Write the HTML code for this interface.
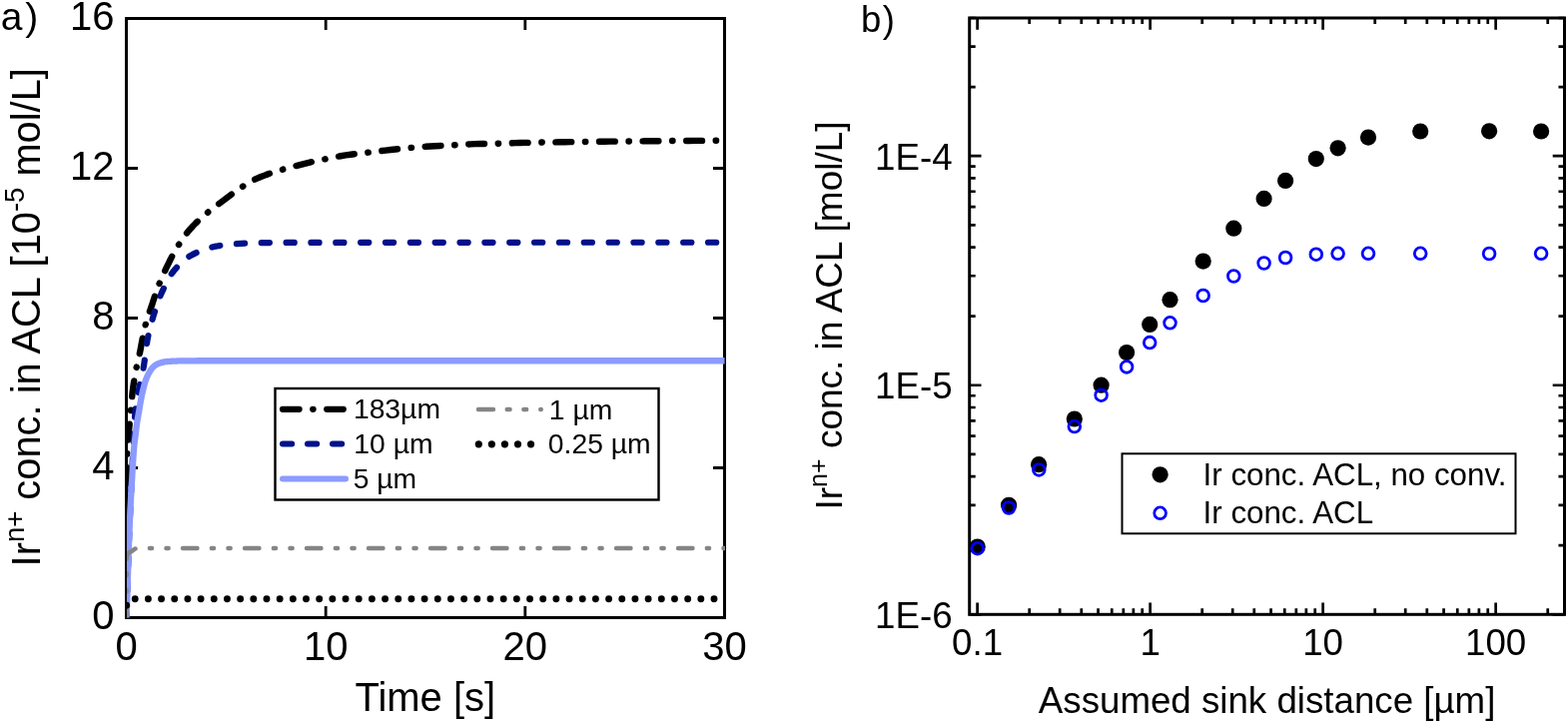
<!DOCTYPE html>
<html><head><meta charset="utf-8"><style>
html,body{margin:0;padding:0;background:#fff;width:1570px;height:724px;overflow:hidden}
svg{display:block}
text{font-family:"Liberation Sans", Arial, sans-serif;fill:#000}
</style></head><body>
<svg width="1570" height="724" viewBox="0 0 1570 724">
<rect width="1570" height="724" fill="#fff"/>
<path d="M326.17 618.5 V607 M326.17 18.5 V30 M525.83 618.5 V607 M525.83 18.5 V30 M126.5 468.5 H138 M725.5 468.5 H714 M126.5 318.5 H138 M725.5 318.5 H714 M126.5 168.5 H138 M725.5 168.5 H714" stroke="#000" stroke-width="2.8" fill="none"/>
<rect x="126.5" y="18.5" width="599.0" height="600.0" fill="none" stroke="#000" stroke-width="3"/>
<clipPath id="ca"><rect x="127" y="17" width="599" height="601.5"/></clipPath>
<g clip-path="url(#ca)">
<g fill="none" stroke-linecap="round" stroke-linejoin="round">
<path d="M126.5 618.5 L126.6 514.88 L126.7 492.21 L126.8 479.48 L126.9 472.25 L127 466.75 L127.1 462.09 L127.2 458.16 L127.3 454.86 L127.4 452.09 L127.5 449.76 L127.7 446 L127.9 443.02 L128.1 440.65 L128.3 438.68 L128.5 436.88 L128.7 435.02 L128.9 432.94 L129.1 430.84 L129.3 428.77 L129.5 426.72 L129.69 424.68 L129.89 422.64 L130.09 420.6 L130.29 418.56 L130.49 416.5 L130.69 414.42 L130.89 412.31 L131.09 410.11 L131.29 407.83 L131.49 405.52 L131.69 403.2 L131.89 400.9 L132.09 398.66 L132.29 396.5 L132.49 394.47 L132.69 392.58 L132.89 390.88 L133.09 389.3 L133.29 387.78 L133.49 386.32 L133.69 384.91 L133.89 383.54 L134.09 382.22 L134.29 380.94 L134.49 379.7 L134.69 378.5 L134.89 377.32 L135.09 376.18 L135.29 375.06 L135.49 373.96 L135.68 372.89 L135.88 371.83 L136.08 370.78 L136.28 369.74 L136.48 368.72 L136.68 367.72 L136.88 366.76 L137.08 365.83 L137.28 364.93 L137.48 364.05 L137.68 363.19 L137.88 362.34 L138.08 361.5 L138.28 360.67 L138.48 359.84 L138.68 359.01 L138.88 358.17 L139.08 357.33 L139.28 356.46 L139.48 355.58 L139.68 354.68 L139.88 353.75 L140.08 352.79 L140.28 351.82 L140.48 350.82 L140.68 349.8 L140.88 348.77 L141.08 347.72 L141.28 346.66 L141.47 345.6 L141.67 344.53 L141.87 343.45 L142.07 342.37 L142.27 341.29 L142.47 340.21 L142.67 339.14 L142.87 338.08 L143.07 337.03 L143.27 335.99 L143.47 334.96 L143.67 333.95 L143.87 332.96 L144.07 331.99 L144.27 331.04 L144.47 330.12 L144.67 329.23 L144.87 328.37 L145.07 327.54 L145.27 326.75 L145.47 325.98 L145.67 325.23 L145.87 324.5 L146.07 323.78 L146.27 323.07 L146.47 322.38 L147.47 319.08 L148.46 316.02 L149.46 313.1 L150.46 310.24 L151.46 307.37 L152.46 304.4 L153.46 301.35 L154.45 298.29 L155.45 295.27 L156.45 292.31 L157.45 289.46 L158.45 286.77 L159.44 284.22 L160.44 281.77 L161.44 279.4 L162.44 277.1 L163.44 274.86 L164.44 272.68 L165.44 270.54 L166.43 268.44 L167.43 266.38 L168.43 264.33 L169.43 262.3 L170.43 260.3 L171.43 258.34 L172.42 256.41 L173.42 254.52 L174.42 252.68 L175.42 250.9 L176.42 249.18 L177.41 247.52 L178.41 245.92 L179.41 244.36 L180.41 242.82 L181.41 241.31 L182.41 239.83 L183.41 238.39 L184.4 236.98 L185.4 235.61 L186.4 234.28 L187.4 232.99 L188.4 231.74 L189.39 230.54 L190.39 229.39 L191.39 228.28 L192.39 227.21 L193.39 226.16 L194.39 225.13 L195.38 224.11 L196.38 223.12 L197.38 222.15 L198.38 221.19 L199.38 220.26 L200.38 219.33 L201.38 218.43 L202.37 217.54 L203.37 216.66 L204.37 215.8 L205.37 214.95 L206.37 214.11 L207.37 213.28 L208.36 212.46 L209.36 211.66 L210.36 210.86 L211.36 210.07 L212.36 209.29 L213.35 208.51 L214.35 207.75 L215.35 206.98 L216.35 206.22 L217.35 205.47 L218.35 204.72 L219.35 203.97 L220.34 203.22 L221.34 202.47 L222.34 201.73 L223.34 200.98 L224.34 200.23 L225.34 199.48 L226.33 198.72 L231.32 194.98 L236.32 191.33 L241.31 187.83 L246.3 184.59 L251.29 181.67 L256.28 179.16 L261.27 177.04 L266.27 175.12 L271.26 173.36 L276.25 171.74 L281.24 170.23 L286.23 168.8 L291.23 167.44 L296.22 166.12 L301.21 164.81 L306.2 163.57 L311.19 162.39 L316.18 161.27 L321.18 160.21 L326.17 159.17 L331.16 158.15 L336.15 157.16 L341.14 156.25 L346.13 155.43 L351.12 154.74 L356.12 154.12 L361.11 153.54 L366.1 152.96 L371.09 152.36 L376.08 151.76 L381.07 151.16 L386.07 150.58 L391.06 150.01 L396.05 149.45 L401.04 148.91 L406.03 148.39 L411.02 147.93 L416.02 147.52 L421.01 147.15 L426 146.81 L430.99 146.49 L435.98 146.2 L440.98 145.94 L445.97 145.7 L450.96 145.46 L455.95 145.21 L460.94 144.92 L465.93 144.61 L470.93 144.34 L475.92 144.14 L480.91 144.03 L485.9 143.95 L490.89 143.88 L495.88 143.81 L500.88 143.69 L505.87 143.53 L510.86 143.33 L515.85 143.14 L520.84 143 L525.83 142.89 L530.83 142.79 L535.82 142.69 L540.81 142.6 L545.8 142.51 L550.79 142.43 L555.78 142.34 L560.77 142.27 L565.77 142.19 L570.76 142.12 L575.75 142.06 L580.74 141.99 L585.73 141.93 L590.73 141.87 L595.72 141.81 L600.71 141.76 L605.7 141.7 L610.69 141.65 L615.68 141.6 L620.67 141.55 L625.67 141.5 L630.66 141.45 L635.65 141.4 L640.64 141.36 L645.63 141.31 L650.62 141.26 L655.62 141.22 L660.61 141.18 L665.6 141.13 L670.59 141.09 L675.58 141.05 L680.58 141.02 L685.57 140.98 L690.56 140.95 L695.55 140.91 L700.54 140.88 L705.53 140.85 L710.52 140.82 L715.52 140.8 L720.51 140.77 L725.5 140.75" stroke="#000" stroke-width="6.4" stroke-dasharray="15.8 13.7 0.4 13.7" stroke-dashoffset="39.96"/>
<path d="M126.5 618.5 L126.6 616.23 L126.7 613.86 L126.8 611.41 L126.9 608.86 L127 606.24 L127.1 603.53 L127.2 600.74 L127.3 597.88 L127.4 594.87 L127.5 591.67 L127.7 584.91 L127.9 577.93 L128.1 571.11 L128.3 564.71 L128.5 558.4 L128.7 552.2 L128.9 546.22 L129.1 540.56 L129.3 535.29 L129.5 530.32 L129.69 525.57 L129.89 521 L130.09 516.56 L130.29 512.2 L130.49 507.88 L130.69 503.62 L130.89 499.48 L131.09 495.42 L131.29 491.41 L131.49 487.39 L131.69 483.36 L131.89 479.34 L132.09 475.35 L132.29 471.37 L132.49 467.39 L132.69 463.41 L132.89 459.41 L133.09 455.38 L133.29 451.26 L133.49 447.06 L133.69 442.85 L133.89 438.73 L134.09 434.77 L134.29 430.99 L134.49 427.1 L134.69 423.27 L134.89 419.68 L135.09 416.56 L135.29 414.12 L135.49 412.17 L135.68 410.34 L135.88 408.63 L136.08 407.03 L136.28 405.53 L136.48 404.13 L136.68 402.8 L136.88 401.55 L137.08 400.37 L137.28 399.23 L137.48 398.14 L137.68 397.09 L137.88 396.05 L138.08 395.04 L138.28 394.03 L138.48 393.02 L138.68 391.99 L138.88 390.94 L139.08 389.86 L139.28 388.77 L139.48 387.72 L139.68 386.7 L139.88 385.71 L140.08 384.75 L140.28 383.8 L140.48 382.88 L140.68 381.98 L140.88 381.08 L141.08 380.2 L141.28 379.32 L141.47 378.44 L141.67 377.56 L141.87 376.68 L142.07 375.79 L142.27 374.89 L142.47 373.97 L142.67 373.03 L142.87 372.07 L143.07 371.08 L143.27 370.07 L143.47 369.02 L143.67 367.94 L143.87 366.82 L144.07 365.65 L144.27 364.39 L144.47 363.04 L144.67 361.61 L144.87 360.12 L145.07 358.58 L145.27 357.01 L145.47 355.41 L145.67 353.8 L145.87 352.19 L146.07 350.6 L146.27 349.04 L146.47 347.52 L147.47 341 L148.46 336.01 L149.46 331.54 L150.46 327.5 L151.46 323.78 L152.46 320.29 L153.46 316.92 L154.45 313.62 L155.45 310.43 L156.45 307.36 L157.45 304.43 L158.45 301.63 L159.44 298.98 L160.44 296.47 L161.44 294.12 L162.44 291.88 L163.44 289.68 L164.44 287.53 L165.44 285.45 L166.43 283.44 L167.43 281.51 L168.43 279.66 L169.43 277.91 L170.43 276.26 L171.43 274.72 L172.42 273.3 L173.42 272 L174.42 270.79 L175.42 269.6 L176.42 268.45 L177.41 267.34 L178.41 266.26 L179.41 265.22 L180.41 264.21 L181.41 263.24 L182.41 262.3 L183.41 261.41 L184.4 260.55 L185.4 259.73 L186.4 258.95 L187.4 258.21 L188.4 257.51 L189.39 256.85 L190.39 256.23 L191.39 255.66 L192.39 255.12 L193.39 254.62 L194.39 254.13 L195.38 253.65 L196.38 253.18 L197.38 252.73 L198.38 252.29 L199.38 251.86 L200.38 251.44 L201.38 251.04 L202.37 250.65 L203.37 250.27 L204.37 249.91 L205.37 249.56 L206.37 249.22 L207.37 248.9 L208.36 248.59 L209.36 248.3 L210.36 248.02 L211.36 247.75 L212.36 247.5 L213.35 247.26 L214.35 247.04 L215.35 246.83 L216.35 246.64 L217.35 246.47 L218.35 246.3 L219.35 246.13 L220.34 245.97 L221.34 245.81 L222.34 245.65 L223.34 245.5 L224.34 245.36 L225.34 245.22 L226.33 245.08 L231.32 244.49 L236.32 244.06 L241.31 243.82 L246.3 243.65 L251.29 243.49 L256.28 243.35 L261.27 243.23 L266.27 243.13 L271.26 243.05 L276.25 242.99 L281.24 242.95 L286.23 242.94 L291.23 242.93 L296.22 242.93 L301.21 242.92 L306.2 242.92 L311.19 242.91 L316.18 242.91 L321.18 242.9 L326.17 242.9 L331.16 242.89 L336.15 242.89 L341.14 242.88 L346.13 242.88 L351.12 242.87 L356.12 242.87 L361.11 242.86 L366.1 242.86 L371.09 242.86 L376.08 242.85 L381.07 242.85 L386.07 242.85 L391.06 242.84 L396.05 242.84 L401.04 242.84 L406.03 242.83 L411.02 242.83 L416.02 242.83 L421.01 242.82 L426 242.82 L430.99 242.82 L435.98 242.81 L440.98 242.81 L445.97 242.81 L450.96 242.81 L455.95 242.8 L460.94 242.8 L465.93 242.8 L470.93 242.8 L475.92 242.79 L480.91 242.79 L485.9 242.79 L490.89 242.79 L495.88 242.79 L500.88 242.78 L505.87 242.78 L510.86 242.78 L515.85 242.78 L520.84 242.78 L525.83 242.78 L530.83 242.77 L535.82 242.77 L540.81 242.77 L545.8 242.77 L550.79 242.77 L555.78 242.77 L560.77 242.77 L565.77 242.76 L570.76 242.76 L575.75 242.76 L580.74 242.76 L585.73 242.76 L590.73 242.76 L595.72 242.76 L600.71 242.76 L605.7 242.76 L610.69 242.76 L615.68 242.76 L620.67 242.76 L625.67 242.75 L630.66 242.75 L635.65 242.75 L640.64 242.75 L645.63 242.75 L650.62 242.75 L655.62 242.75 L660.61 242.75 L665.6 242.75 L670.59 242.75 L675.58 242.75 L680.58 242.75 L685.57 242.75 L690.56 242.75 L695.55 242.75 L700.54 242.75 L705.53 242.75 L710.52 242.75 L715.52 242.75 L720.51 242.75 L725.5 242.75" stroke="#00128a" stroke-width="6.2" stroke-dasharray="8.2 16.65" stroke-dashoffset="22.57"/>
<path d="M126.5 618.5 L126.6 616.62 L126.7 614.61 L126.8 612.47 L126.9 610.21 L127 607.84 L127.1 605.37 L127.2 602.79 L127.3 600.12 L127.4 597.27 L127.5 594.15 L127.7 587.39 L127.9 580.31 L128.1 573.38 L128.3 566.96 L128.5 560.65 L128.7 554.45 L128.9 548.47 L129.1 542.81 L129.3 537.53 L129.5 532.5 L129.69 527.67 L129.89 523.04 L130.09 518.58 L130.29 514.28 L130.49 510.12 L130.69 506.14 L130.89 502.33 L131.09 498.65 L131.29 495.09 L131.49 491.6 L131.69 488.14 L131.89 484.63 L132.09 481.08 L132.29 477.51 L132.49 473.95 L132.69 470.43 L132.89 466.98 L133.09 463.62 L133.29 460.38 L133.49 457.3 L133.69 454.38 L133.89 451.67 L134.09 449.18 L134.29 446.96 L134.49 445 L134.69 443.25 L134.89 441.66 L135.09 440.17 L135.29 438.71 L135.49 437.23 L135.68 435.66 L135.88 433.99 L136.08 432.25 L136.28 430.48 L136.48 428.74 L136.68 427.07 L136.88 425.5 L137.08 424.07 L137.28 422.74 L137.48 421.48 L137.68 420.27 L137.88 419.11 L138.08 417.98 L138.28 416.86 L138.48 415.76 L138.68 414.65 L138.88 413.52 L139.08 412.37 L139.28 411.18 L139.48 409.97 L139.68 408.75 L139.88 407.53 L140.08 406.3 L140.28 405.09 L140.48 403.9 L140.68 402.73 L140.88 401.6 L141.08 400.51 L141.28 399.46 L141.47 398.44 L141.67 397.44 L141.87 396.46 L142.07 395.5 L142.27 394.57 L142.47 393.65 L142.67 392.76 L142.87 391.88 L143.07 391.03 L143.27 390.21 L143.47 389.39 L143.67 388.59 L143.87 387.79 L144.07 387 L144.27 386.22 L144.47 385.46 L144.67 384.71 L144.87 383.99 L145.07 383.29 L145.27 382.61 L145.47 381.97 L145.67 381.35 L145.87 380.76 L146.07 380.21 L146.27 379.68 L146.47 379.17 L147.47 376.8 L148.46 374.74 L149.46 372.94 L150.46 371.3 L151.46 369.77 L152.46 368.44 L153.46 367.37 L154.45 366.54 L155.45 365.79 L156.45 365.14 L157.45 364.58 L158.45 364.12 L159.44 363.76 L160.44 363.44 L161.44 363.14 L162.44 362.87 L163.44 362.62 L164.44 362.41 L165.44 362.24 L166.43 362.1 L167.43 362 L168.43 361.93 L169.43 361.86 L170.43 361.8 L171.43 361.74 L172.42 361.69 L173.42 361.64 L174.42 361.6 L175.42 361.56 L176.42 361.53 L177.41 361.5 L178.41 361.47 L179.41 361.45 L180.41 361.44 L181.41 361.42 L182.41 361.41 L183.41 361.4 L184.4 361.39 L185.4 361.38 L186.4 361.36 L187.4 361.35 L188.4 361.34 L189.39 361.33 L190.39 361.32 L191.39 361.32 L192.39 361.31 L193.39 361.3 L194.39 361.29 L195.38 361.29 L196.38 361.28 L197.38 361.27 L198.38 361.27 L199.38 361.26 L200.38 361.26 L201.38 361.26 L202.37 361.25 L203.37 361.25 L204.37 361.25 L205.37 361.25 L206.37 361.25 L207.37 361.25 L208.36 361.25 L209.36 361.25 L210.36 361.25 L211.36 361.25 L212.36 361.25 L213.35 361.25 L214.35 361.25 L215.35 361.25 L216.35 361.25 L217.35 361.25 L218.35 361.25 L219.35 361.25 L220.34 361.25 L221.34 361.25 L222.34 361.25 L223.34 361.25 L224.34 361.25 L225.34 361.25 L226.33 361.25 L231.32 361.25 L236.32 361.25 L241.31 361.25 L246.3 361.25 L251.29 361.25 L256.28 361.25 L261.27 361.25 L266.27 361.25 L271.26 361.25 L276.25 361.25 L281.24 361.25 L286.23 361.25 L291.23 361.25 L296.22 361.25 L301.21 361.25 L306.2 361.25 L311.19 361.25 L316.18 361.25 L321.18 361.25 L326.17 361.25 L331.16 361.25 L336.15 361.25 L341.14 361.25 L346.13 361.25 L351.12 361.25 L356.12 361.25 L361.11 361.25 L366.1 361.25 L371.09 361.25 L376.08 361.25 L381.07 361.25 L386.07 361.25 L391.06 361.25 L396.05 361.25 L401.04 361.25 L406.03 361.25 L411.02 361.25 L416.02 361.25 L421.01 361.25 L426 361.25 L430.99 361.25 L435.98 361.25 L440.98 361.25 L445.97 361.25 L450.96 361.25 L455.95 361.25 L460.94 361.25 L465.93 361.25 L470.93 361.25 L475.92 361.25 L480.91 361.25 L485.9 361.25 L490.89 361.25 L495.88 361.25 L500.88 361.25 L505.87 361.25 L510.86 361.25 L515.85 361.25 L520.84 361.25 L525.83 361.25 L530.83 361.25 L535.82 361.25 L540.81 361.25 L545.8 361.25 L550.79 361.25 L555.78 361.25 L560.77 361.25 L565.77 361.25 L570.76 361.25 L575.75 361.25 L580.74 361.25 L585.73 361.25 L590.73 361.25 L595.72 361.25 L600.71 361.25 L605.7 361.25 L610.69 361.25 L615.68 361.25 L620.67 361.25 L625.67 361.25 L630.66 361.25 L635.65 361.25 L640.64 361.25 L645.63 361.25 L650.62 361.25 L655.62 361.25 L660.61 361.25 L665.6 361.25 L670.59 361.25 L675.58 361.25 L680.58 361.25 L685.57 361.25 L690.56 361.25 L695.55 361.25 L700.54 361.25 L705.53 361.25 L710.52 361.25 L715.52 361.25 L720.51 361.25 L725.5 361.25" stroke="#8c9bff" stroke-width="6.3" stroke-linecap="butt"/>
<path d="M126.5 618.5 L126.6 584.92 L126.7 570.05 L126.8 562.25 L126.9 558.51 L127 556.81 L127.1 556.55 L127.2 556.31 L127.3 556.08 L127.4 555.85 L127.5 555.64 L127.7 555.25 L127.9 554.9 L128.1 554.58 L128.3 554.3 L128.5 554.05 L128.7 553.83 L128.9 553.64 L129.1 553.47 L129.3 553.32 L129.5 553.19 L129.69 553.07 L129.89 552.97 L130.09 552.87 L130.29 552.79 L130.49 552.7 L130.69 552.62 L130.89 552.54 L131.09 552.45 L131.29 552.36 L131.49 552.25 L131.69 552.14 L131.89 552.01 L132.09 551.86 L132.29 551.71 L132.49 551.56 L132.69 551.4 L132.89 551.24 L133.09 551.08 L133.29 550.93 L133.49 550.77 L133.69 550.62 L133.89 550.46 L134.09 550.32 L134.29 550.18 L134.49 550.04 L134.69 549.92 L134.89 549.8 L135.09 549.69 L135.29 549.59 L135.49 549.49 L135.68 549.42 L135.88 549.35 L136.08 549.3 L136.28 549.26 L136.48 549.24 L136.68 549.22 L136.88 549.21 L137.08 549.2 L137.28 549.18 L137.48 549.17 L137.68 549.16 L137.88 549.15 L138.08 549.13 L138.28 549.12 L138.48 549.11 L138.68 549.1 L138.88 549.09 L139.08 549.09 L139.28 549.08 L139.48 549.07 L139.68 549.06 L139.88 549.06 L140.08 549.05 L140.28 549.04 L140.48 549.04 L140.68 549.03 L140.88 549.03 L141.08 549.03 L141.28 549.02 L141.47 549.02 L141.67 549.02 L141.87 549.01 L142.07 549.01 L142.27 549.01 L142.47 549.01 L142.67 549.01 L142.87 549.01 L143.07 549.01 L143.27 549.01 L143.47 549.01 L143.67 549.01 L143.87 549.01 L144.07 549.01 L144.27 549.01 L144.47 549.01 L144.67 549.01 L144.87 549.01 L145.07 549.01 L145.27 549.01 L145.47 549.01 L145.67 549.01 L145.87 549.01 L146.07 549.01 L146.27 549.01 L146.47 549.01 L147.47 549.01 L148.46 549.01 L149.46 549.01 L150.46 549.01 L151.46 549.01 L152.46 549.01 L153.46 549.01 L154.45 549.01 L155.45 549.01 L156.45 549.01 L157.45 549.01 L158.45 549.01 L159.44 549.01 L160.44 549.01 L161.44 549.01 L162.44 549.01 L163.44 549.01 L164.44 549.01 L165.44 549.01 L166.43 549.01 L167.43 549.01 L168.43 549.01 L169.43 549.01 L170.43 549.01 L171.43 549.01 L172.42 549.01 L173.42 549.01 L174.42 549.01 L175.42 549.01 L176.42 549.01 L177.41 549.01 L178.41 549.01 L179.41 549.01 L180.41 549.01 L181.41 549.01 L182.41 549.01 L183.41 549.01 L184.4 549.01 L185.4 549.01 L186.4 549.01 L187.4 549.01 L188.4 549.01 L189.39 549.01 L190.39 549.01 L191.39 549.01 L192.39 549.01 L193.39 549.01 L194.39 549.01 L195.38 549.01 L196.38 549.01 L197.38 549.01 L198.38 549.01 L199.38 549.01 L200.38 549.01 L201.38 549.01 L202.37 549.01 L203.37 549.01 L204.37 549.01 L205.37 549.01 L206.37 549.01 L207.37 549.01 L208.36 549.01 L209.36 549.01 L210.36 549.01 L211.36 549.01 L212.36 549.01 L213.35 549.01 L214.35 549.01 L215.35 549.01 L216.35 549.01 L217.35 549.01 L218.35 549.01 L219.35 549.01 L220.34 549.01 L221.34 549.01 L222.34 549.01 L223.34 549.01 L224.34 549.01 L225.34 549.01 L226.33 549.01 L231.32 549.01 L236.32 549.01 L241.31 549.01 L246.3 549.01 L251.29 549.01 L256.28 549.01 L261.27 549.01 L266.27 549.01 L271.26 549.01 L276.25 549.01 L281.24 549.01 L286.23 549.01 L291.23 549.01 L296.22 549.01 L301.21 549.01 L306.2 549.01 L311.19 549.01 L316.18 549.01 L321.18 549.01 L326.17 549.01 L331.16 549.01 L336.15 549.01 L341.14 549.01 L346.13 549.01 L351.12 549.01 L356.12 549.01 L361.11 549.01 L366.1 549.01 L371.09 549.01 L376.08 549.01 L381.07 549.01 L386.07 549.01 L391.06 549.01 L396.05 549.01 L401.04 549.01 L406.03 549.01 L411.02 549.01 L416.02 549.01 L421.01 549.01 L426 549.01 L430.99 549.01 L435.98 549.01 L440.98 549.01 L445.97 549.01 L450.96 549.01 L455.95 549.01 L460.94 549.01 L465.93 549.01 L470.93 549.01 L475.92 549.01 L480.91 549.01 L485.9 549.01 L490.89 549.01 L495.88 549.01 L500.88 549.01 L505.87 549.01 L510.86 549.01 L515.85 549.01 L520.84 549.01 L525.83 549.01 L530.83 549.01 L535.82 549.01 L540.81 549.01 L545.8 549.01 L550.79 549.01 L555.78 549.01 L560.77 549.01 L565.77 549.01 L570.76 549.01 L575.75 549.01 L580.74 549.01 L585.73 549.01 L590.73 549.01 L595.72 549.01 L600.71 549.01 L605.7 549.01 L610.69 549.01 L615.68 549.01 L620.67 549.01 L625.67 549.01 L630.66 549.01 L635.65 549.01 L640.64 549.01 L645.63 549.01 L650.62 549.01 L655.62 549.01 L660.61 549.01 L665.6 549.01 L670.59 549.01 L675.58 549.01 L680.58 549.01 L685.57 549.01 L690.56 549.01 L695.55 549.01 L700.54 549.01 L705.53 549.01 L710.52 549.01 L715.52 549.01 L720.51 549.01 L725.5 549.01" stroke="#858585" stroke-width="4.5" stroke-dasharray="14.4 14.4 2.2 14.4 2.2 14.4" stroke-dashoffset="3.15"/>
<path d="M126.5 618.5 L126.6 610.25 L126.7 606.09 L126.8 603.86 L126.9 602.75 L127 602.31 L127.1 601.97 L127.2 601.71 L127.3 601.51 L127.4 601.36 L127.5 601.25 L127.7 601.05 L127.9 600.88 L128.1 600.73 L128.3 600.6 L128.5 600.48 L128.7 600.38 L128.9 600.3 L129.1 600.23 L129.3 600.17 L129.5 600.12 L129.69 600.08 L129.89 600.04 L130.09 600 L130.29 599.97 L130.49 599.93 L130.69 599.9 L130.89 599.87 L131.09 599.84 L131.29 599.82 L131.49 599.8 L131.69 599.78 L131.89 599.77 L132.09 599.76 L132.29 599.75 L132.49 599.75 L132.69 599.75 L132.89 599.75 L133.09 599.75 L133.29 599.75 L133.49 599.75 L133.69 599.75 L133.89 599.75 L134.09 599.75 L134.29 599.75 L134.49 599.75 L134.69 599.75 L134.89 599.75 L135.09 599.75 L135.29 599.75 L135.49 599.75 L135.68 599.75 L135.88 599.75 L136.08 599.75 L136.28 599.75 L136.48 599.75 L136.68 599.75 L136.88 599.75 L137.08 599.75 L137.28 599.75 L137.48 599.75 L137.68 599.75 L137.88 599.75 L138.08 599.75 L138.28 599.75 L138.48 599.75 L138.68 599.75 L138.88 599.75 L139.08 599.75 L139.28 599.75 L139.48 599.75 L139.68 599.75 L139.88 599.75 L140.08 599.75 L140.28 599.75 L140.48 599.75 L140.68 599.75 L140.88 599.75 L141.08 599.75 L141.28 599.75 L141.47 599.75 L141.67 599.75 L141.87 599.75 L142.07 599.75 L142.27 599.75 L142.47 599.75 L142.67 599.75 L142.87 599.75 L143.07 599.75 L143.27 599.75 L143.47 599.75 L143.67 599.75 L143.87 599.75 L144.07 599.75 L144.27 599.75 L144.47 599.75 L144.67 599.75 L144.87 599.75 L145.07 599.75 L145.27 599.75 L145.47 599.75 L145.67 599.75 L145.87 599.75 L146.07 599.75 L146.27 599.75 L146.47 599.75 L147.47 599.75 L148.46 599.75 L149.46 599.75 L150.46 599.75 L151.46 599.75 L152.46 599.75 L153.46 599.75 L154.45 599.75 L155.45 599.75 L156.45 599.75 L157.45 599.75 L158.45 599.75 L159.44 599.75 L160.44 599.75 L161.44 599.75 L162.44 599.75 L163.44 599.75 L164.44 599.75 L165.44 599.75 L166.43 599.75 L167.43 599.75 L168.43 599.75 L169.43 599.75 L170.43 599.75 L171.43 599.75 L172.42 599.75 L173.42 599.75 L174.42 599.75 L175.42 599.75 L176.42 599.75 L177.41 599.75 L178.41 599.75 L179.41 599.75 L180.41 599.75 L181.41 599.75 L182.41 599.75 L183.41 599.75 L184.4 599.75 L185.4 599.75 L186.4 599.75 L187.4 599.75 L188.4 599.75 L189.39 599.75 L190.39 599.75 L191.39 599.75 L192.39 599.75 L193.39 599.75 L194.39 599.75 L195.38 599.75 L196.38 599.75 L197.38 599.75 L198.38 599.75 L199.38 599.75 L200.38 599.75 L201.38 599.75 L202.37 599.75 L203.37 599.75 L204.37 599.75 L205.37 599.75 L206.37 599.75 L207.37 599.75 L208.36 599.75 L209.36 599.75 L210.36 599.75 L211.36 599.75 L212.36 599.75 L213.35 599.75 L214.35 599.75 L215.35 599.75 L216.35 599.75 L217.35 599.75 L218.35 599.75 L219.35 599.75 L220.34 599.75 L221.34 599.75 L222.34 599.75 L223.34 599.75 L224.34 599.75 L225.34 599.75 L226.33 599.75 L231.32 599.75 L236.32 599.75 L241.31 599.75 L246.3 599.75 L251.29 599.75 L256.28 599.75 L261.27 599.75 L266.27 599.75 L271.26 599.75 L276.25 599.75 L281.24 599.75 L286.23 599.75 L291.23 599.75 L296.22 599.75 L301.21 599.75 L306.2 599.75 L311.19 599.75 L316.18 599.75 L321.18 599.75 L326.17 599.75 L331.16 599.75 L336.15 599.75 L341.14 599.75 L346.13 599.75 L351.12 599.75 L356.12 599.75 L361.11 599.75 L366.1 599.75 L371.09 599.75 L376.08 599.75 L381.07 599.75 L386.07 599.75 L391.06 599.75 L396.05 599.75 L401.04 599.75 L406.03 599.75 L411.02 599.75 L416.02 599.75 L421.01 599.75 L426 599.75 L430.99 599.75 L435.98 599.75 L440.98 599.75 L445.97 599.75 L450.96 599.75 L455.95 599.75 L460.94 599.75 L465.93 599.75 L470.93 599.75 L475.92 599.75 L480.91 599.75 L485.9 599.75 L490.89 599.75 L495.88 599.75 L500.88 599.75 L505.87 599.75 L510.86 599.75 L515.85 599.75 L520.84 599.75 L525.83 599.75 L530.83 599.75 L535.82 599.75 L540.81 599.75 L545.8 599.75 L550.79 599.75 L555.78 599.75 L560.77 599.75 L565.77 599.75 L570.76 599.75 L575.75 599.75 L580.74 599.75 L585.73 599.75 L590.73 599.75 L595.72 599.75 L600.71 599.75 L605.7 599.75 L610.69 599.75 L615.68 599.75 L620.67 599.75 L625.67 599.75 L630.66 599.75 L635.65 599.75 L640.64 599.75 L645.63 599.75 L650.62 599.75 L655.62 599.75 L660.61 599.75 L665.6 599.75 L670.59 599.75 L675.58 599.75 L680.58 599.75 L685.57 599.75 L690.56 599.75 L695.55 599.75 L700.54 599.75 L705.53 599.75 L710.52 599.75 L715.52 599.75 L720.51 599.75 L725.5 599.75" stroke="#000" stroke-width="6.9" stroke-dasharray="0.01 13.167" stroke-dashoffset="0.89"/>
</g>
</g>
<g font-size="40" text-anchor="end">
<text x="114.6" y="630.2">0</text>
<text x="114.6" y="480.2">4</text>
<text x="114.6" y="330.2">8</text>
<text x="114.6" y="180.2">12</text>
<text x="114.6" y="30.2">16</text>
</g>
<g font-size="40" text-anchor="middle">
<text x="126.5" y="661.3">0</text>
<text x="326.17" y="661.3">10</text>
<text x="525.83" y="661.3">20</text>
<text x="725.5" y="661.3">30</text>
</g>
<text x="0.8" y="30" font-size="39">a<tspan dx="2.8">)</tspan></text>
<text x="355.45" y="711.7" font-size="40">Time [s]</text>
<text transform="translate(39.7 567.4) rotate(-90)" font-size="39.84">Ir<tspan font-size="27.5" dy="-16">n+</tspan><tspan dy="16"> conc. in ACL [10</tspan><tspan font-size="27.5" dy="-16">-5</tspan><tspan dy="16"> mol/L]</tspan></text>
<rect x="275.5" y="389" width="384" height="111.5" fill="#fff" stroke="#000" stroke-width="2.4"/>
<g fill="none" stroke-linecap="round">
<path d="M283 409.8 H347" stroke="#000" stroke-width="6.2" stroke-dasharray="16.6 13.6 0.4 13.6"/>
<path d="M283 444.5 H347" stroke="#00128a" stroke-width="6" stroke-dasharray="9.2 15.8"/>
<path d="M283 479.5 H346" stroke="#8c9bff" stroke-width="6"/>
<path d="M478.95 410 H541.75" stroke="#858585" stroke-width="4.5" stroke-dasharray="15 13.8 2.8 13.8 2.8 14.1"/>
<path d="M479.3 444.8 H535" stroke="#000" stroke-width="7.2" stroke-dasharray="0.01 13.05"/>
</g>
<g font-size="28.3">
<text x="353.9" y="419.4">183µm</text>
<text x="354.3" y="454">10 µm</text>
<text x="353.7" y="488.8">5 µm</text>
<text x="549.8" y="419.5">1 µm</text>
<text x="548.8" y="454">0.25 µm</text>
</g>
<path d="M978.62 615.3 V603.5 M978.62 18 V29.8 M1030.7 615.3 V609.3 M1030.7 18 V24 M1061.16 615.3 V609.3 M1061.16 18 V24 M1082.78 615.3 V609.3 M1082.78 18 V24 M1099.55 615.3 V609.3 M1099.55 18 V24 M1113.25 615.3 V609.3 M1113.25 18 V24 M1124.83 615.3 V609.3 M1124.83 18 V24 M1134.86 615.3 V609.3 M1134.86 18 V24 M1143.71 615.3 V609.3 M1143.71 18 V24 M1151.63 615.3 V603.5 M1151.63 18 V29.8 M1203.71 615.3 V609.3 M1203.71 18 V24 M1234.18 615.3 V609.3 M1234.18 18 V24 M1255.79 615.3 V609.3 M1255.79 18 V24 M1272.56 615.3 V609.3 M1272.56 18 V24 M1286.26 615.3 V609.3 M1286.26 18 V24 M1297.84 615.3 V609.3 M1297.84 18 V24 M1307.87 615.3 V609.3 M1307.87 18 V24 M1316.72 615.3 V609.3 M1316.72 18 V24 M1324.64 615.3 V603.5 M1324.64 18 V29.8 M1376.72 615.3 V609.3 M1376.72 18 V24 M1407.19 615.3 V609.3 M1407.19 18 V24 M1428.8 615.3 V609.3 M1428.8 18 V24 M1445.57 615.3 V609.3 M1445.57 18 V24 M1459.27 615.3 V609.3 M1459.27 18 V24 M1470.85 615.3 V609.3 M1470.85 18 V24 M1480.89 615.3 V609.3 M1480.89 18 V24 M1489.74 615.3 V609.3 M1489.74 18 V24 M1497.65 615.3 V603.5 M1497.65 18 V29.8 M1549.73 615.3 V609.3 M1549.73 18 V24 M1549.73 615.3 V609.3 M1549.73 18 V24 M970.7 615.3 H982.5 M1566.5 615.3 H1554.7 M970.7 546.2 H976.7 M1566.5 546.2 H1560.5 M970.7 505.78 H976.7 M1566.5 505.78 H1560.5 M970.7 477.1 H976.7 M1566.5 477.1 H1560.5 M970.7 454.85 H976.7 M1566.5 454.85 H1560.5 M970.7 436.68 H976.7 M1566.5 436.68 H1560.5 M970.7 421.31 H976.7 M1566.5 421.31 H1560.5 M970.7 408 H976.7 M1566.5 408 H1560.5 M970.7 396.25 H976.7 M1566.5 396.25 H1560.5 M970.7 385.75 H982.5 M1566.5 385.75 H1554.7 M970.7 316.65 H976.7 M1566.5 316.65 H1560.5 M970.7 276.23 H976.7 M1566.5 276.23 H1560.5 M970.7 247.55 H976.7 M1566.5 247.55 H1560.5 M970.7 225.3 H976.7 M1566.5 225.3 H1560.5 M970.7 207.13 H976.7 M1566.5 207.13 H1560.5 M970.7 191.76 H976.7 M1566.5 191.76 H1560.5 M970.7 178.45 H976.7 M1566.5 178.45 H1560.5 M970.7 166.71 H976.7 M1566.5 166.71 H1560.5 M970.7 156.2 H982.5 M1566.5 156.2 H1554.7 M970.7 87.1 H976.7 M1566.5 87.1 H1560.5 M970.7 46.68 H976.7 M1566.5 46.68 H1560.5 M970.7 18 H976.7 M1566.5 18 H1560.5" stroke="#000" stroke-width="2.7" fill="none"/>
<rect x="970.7" y="18.0" width="595.8" height="597.3" fill="none" stroke="#000" stroke-width="3"/>
<g fill="#000">
<circle cx="978.7" cy="547.5" r="8.1"/>
<circle cx="1010.1" cy="505.8" r="8.1"/>
<circle cx="1040.1" cy="465.2" r="8.1"/>
<circle cx="1075.8" cy="419.5" r="8.1"/>
<circle cx="1102.6" cy="385.7" r="8.1"/>
<circle cx="1128.1" cy="353.1" r="8.1"/>
<circle cx="1151.2" cy="324.9" r="8.1"/>
<circle cx="1171.5" cy="300.2" r="8.1"/>
<circle cx="1204.7" cy="261.6" r="8.1"/>
<circle cx="1235.3" cy="228.7" r="8.1"/>
<circle cx="1265.6" cy="198.9" r="8.1"/>
<circle cx="1287.1" cy="180.9" r="8.1"/>
<circle cx="1317.8" cy="159.1" r="8.1"/>
<circle cx="1339.6" cy="148.3" r="8.1"/>
<circle cx="1370" cy="137.6" r="8.1"/>
<circle cx="1422.2" cy="131.5" r="8.1"/>
<circle cx="1491.1" cy="131.3" r="8.1"/>
<circle cx="1543.1" cy="131.5" r="8.1"/>
</g>
<g fill="none" stroke="#0000ff" stroke-width="2.8">
<circle cx="978.7" cy="549.2" r="5.85"/>
<circle cx="1010.1" cy="508.5" r="5.85"/>
<circle cx="1040.3" cy="470.4" r="5.85"/>
<circle cx="1075.8" cy="427.1" r="5.85"/>
<circle cx="1102.6" cy="395.7" r="5.85"/>
<circle cx="1128.1" cy="367.4" r="5.85"/>
<circle cx="1151.2" cy="343.1" r="5.85"/>
<circle cx="1171.5" cy="323.3" r="5.85"/>
<circle cx="1204.7" cy="296" r="5.85"/>
<circle cx="1235.3" cy="276.5" r="5.85"/>
<circle cx="1265.6" cy="263.5" r="5.85"/>
<circle cx="1287.1" cy="258" r="5.85"/>
<circle cx="1317.8" cy="254.7" r="5.85"/>
<circle cx="1339.6" cy="253.8" r="5.85"/>
<circle cx="1370" cy="253.8" r="5.85"/>
<circle cx="1422.2" cy="253.8" r="5.85"/>
<circle cx="1491.1" cy="254" r="5.85"/>
<circle cx="1543.1" cy="253.8" r="5.85"/>
</g>
<g font-size="36.7" text-anchor="end">
<text x="953.6" y="169.9">1E-4</text>
<text x="953.6" y="399.45">1E-5</text>
<text x="953.6" y="629">1E-6</text>
</g>
<g font-size="36.7" text-anchor="middle">
<text x="978.62" y="655.9">0.1</text>
<text x="1151.63" y="655.9">1</text>
<text x="1324.64" y="655.9">10</text>
<text x="1497.65" y="655.9">100</text>
</g>
<text x="862" y="32" font-size="36.5">b<tspan dx="1.5">)</tspan></text>
<text x="1268.6" y="714.3" font-size="36.7" text-anchor="middle">Assumed sink distance [µm]</text>
<text transform="translate(842.5 510.5) rotate(-90)" font-size="37">Ir<tspan font-size="25" dy="-15">n+</tspan><tspan dy="15"> conc. in ACL [mol/L]</tspan></text>
<rect x="1123.5" y="454.3" width="394" height="80" fill="#fff" stroke="#000" stroke-width="2"/>
<circle cx="1161.6" cy="475.3" r="8.1" fill="#000"/>
<circle cx="1161.6" cy="513.8" r="5.85" fill="none" stroke="#0000ff" stroke-width="2.8"/>
<g font-size="31.3">
<text x="1204.6" y="485.9">Ir conc. ACL, no conv.</text>
<text x="1204.6" y="523.9">Ir conc. ACL</text>
</g>
</svg>
</body></html>
